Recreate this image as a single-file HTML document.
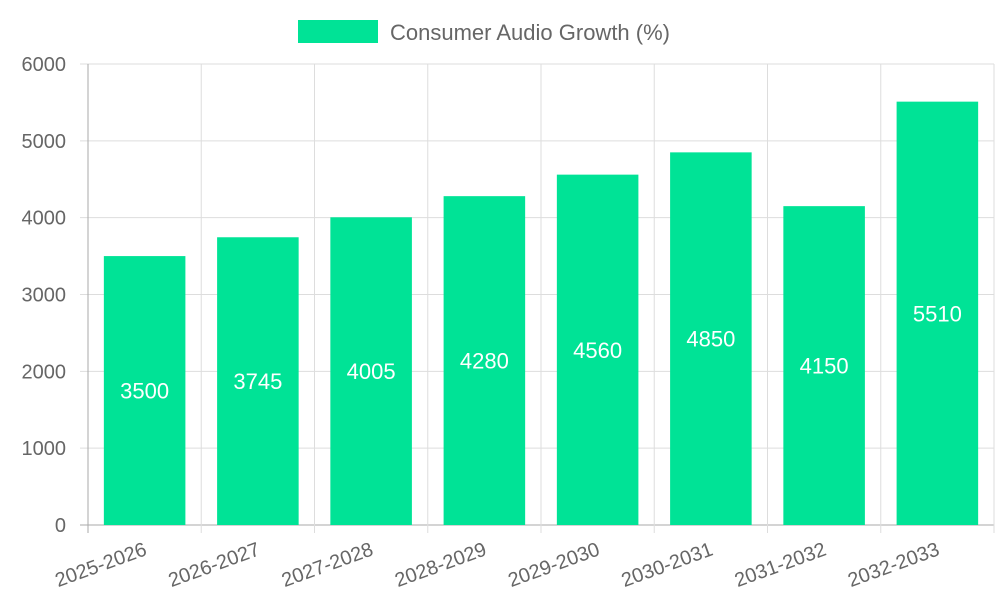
<!DOCTYPE html>
<html><head><meta charset="utf-8"><style>
html,body{margin:0;padding:0;background:#fff;}
svg{display:block;font-family:"Liberation Sans",sans-serif;}
</style></head><body>
<svg id="chart" width="1000" height="600">
<g>
<rect x="298" y="20" width="80" height="23" fill="#00e396"/>
<text x="390" y="40" font-size="22" fill="#666">Consumer Audio Growth (%)</text>
</g>
<g id="grid"></g><g id="bars"></g><g id="axes"></g>
</svg>
<script>
const categories=["2025-2026","2026-2027","2027-2028","2028-2029","2029-2030","2030-2031","2031-2032","2032-2033"];
const values=[3500,3745,4005,4280,4560,4850,4150,5510];
const yTicks=[0,1000,2000,3000,4000,5000,6000];
const NS="http://www.w3.org/2000/svg";
const L=88,R=994,T=64,B=525,yMax=6000;
const band=(R-L)/categories.length;
const x=i=>L+i*band;
const y=v=>B-(v/yMax)*(B-T);
function mk(tag,attrs,parent,text){const e=document.createElementNS(NS,tag);for(const k in attrs)e.setAttribute(k,attrs[k]);if(text!==undefined)e.textContent=text;parent.appendChild(e);return e;}
const grid=document.getElementById('grid'),bars=document.getElementById('bars'),axes=document.getElementById('axes');
yTicks.forEach(t=>{
 const g=mk('line',{x1:L-8,x2:R,y1:y(t),y2:y(t),stroke:t===0?'#aaa':'#ddd','stroke-width':1},grid);
 
 
 const tx=mk('text',{x:L-22,y:y(t)+7,'text-anchor':'end','font-size':20,fill:'#666'},axes,String(t));
 
 
});
for(let i=0;i<=categories.length;i++){
 const g=mk('line',{x1:x(i),x2:x(i),y1:T,y2:B+8,stroke:i===0?'#aaa':'#ddd','stroke-width':1},grid);
 
 
}
categories.forEach((c,i)=>{
 const bw=band*0.72,bx=x(i)+(band-bw)/2,v=values[i];
 const r=mk('rect',{x:bx,y:y(v),width:bw,height:B-y(v),fill:'#00e396'},bars);
 
 
 const lbl=mk('text',{x:bx+bw/2,y:(y(v)+B)/2+8,'text-anchor':'middle','font-size':22,fill:'#fff'},bars,String(v));
 
 
 const cx=x(i+1)-56,cy=B+22;
 const tl=mk('text',{x:cx,y:cy+8,'text-anchor':'end','font-size':20,fill:'#666',transform:`rotate(-20 ${cx} ${cy})`},axes,c);
 
 
});
</script>
</body></html>
